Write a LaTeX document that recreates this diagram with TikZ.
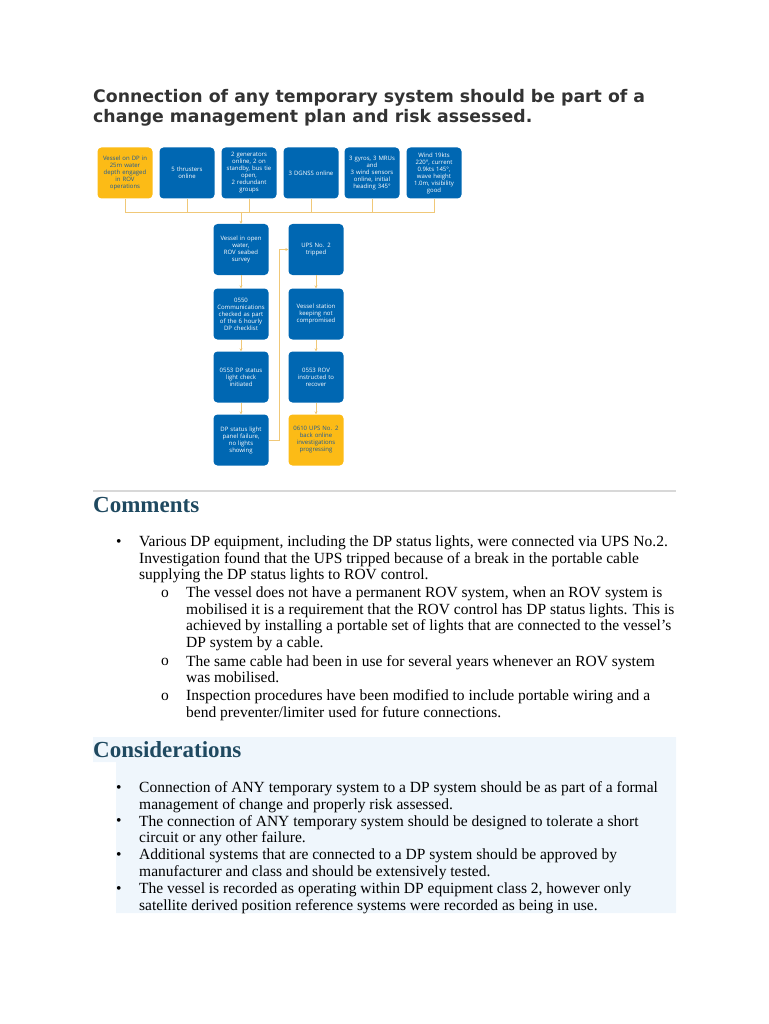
\documentclass[tikz,border=0pt]{standalone}
\usepackage{fontspec}
\setmainfont{Liberation Serif}
\newfontfamily\boxfont{Open Sans}
\newfontfamily\titlefont{DejaVu Sans}
\definecolor{dpblue}{RGB}{0,103,178}
\definecolor{dpyellow}{RGB}{252,187,22}
\definecolor{yeltext}{RGB}{30,90,150}
\definecolor{linkgold}{RGB}{240,200,120}
\definecolor{headteal}{RGB}{31,73,96}
\definecolor{titlegray}{RGB}{51,51,51}
\definecolor{rulegray}{RGB}{216,216,216}
\definecolor{shadeblue}{RGB}{239,246,252}
\usetikzlibrary{calc, positioning, arrows.meta}

\begin{document}
\begin{tikzpicture}[x=1pt, y=-1pt,
  evt/.style={draw=none, rounded corners=4pt, fill=dpblue, text=white,
    minimum width=55pt, minimum height=51pt, inner sep=1pt,
    text width=53pt, align=center,
    font=\boxfont\fontsize{6}{7}\selectfont},
  evty/.style={evt, fill=dpyellow, text=yeltext},
  lnk/.style={linkgold, line width=0.8pt},
  arw/.style={lnk, -{Stealth[length=3pt, width=3pt]}},
  para/.style={anchor=north west, inner sep=0pt, align=left,
    font=\fontsize{15.5}{16.8}\selectfont},
  dot/.style={anchor=base west, inner sep=0pt,
    font=\fontsize{15.5}{16.8}\selectfont},
  head/.style={anchor=base west, inner sep=0pt, text=headteal,
    font=\bfseries\fontsize{23}{26}\selectfont},
]
\useasboundingbox (0,0) rectangle (768,1024);

% title
\node[anchor=north west, inner sep=0pt, align=left, text=titlegray,
  font=\titlefont\bfseries\fontsize{17.3}{20}\selectfont] (title) at (93,89.3)
  {Connection of any temporary system should be part of a\\change management plan and risk assessed.};

% top row
\node[evty] (t1) at (125,173) {Vessel on DP in\\25m water\\depth engaged\\in ROV\\operations};
\node[evt] (t2) at (187,173) {5 thrusters\\online};
\node[evt] (t3) at (249,173) {2 generators\\online, 2 on\\standby, bus tie\\open,\\2 redundant\\groups};
\node[evt] (t4) at (311,173) {3 DGNSS online};
\node[evt] (t5) at (372,173) {3 gyros, 3 MRUs\\and\\3 wind sensors\\online, initial\\heading 345°};
\node[evt] (t6) at (434,173) {Wind 19kts\\220°, current\\0.9kts 145°,\\wave height\\1.0m, visibility\\good};

% left column
\node[evt] (l1) at (241,249.5) {Vessel in open\\water,\\ROV seabed\\survey};
\node[evt] (l2) at (241,314) {0550\\Communications\\checked as part\\of the 6 hourly\\DP checklist};
\node[evt] (l3) at (241,377) {0553 DP status\\light check\\initiated};
\node[evt] (l4) at (241,440) {DP status light\\panel failure,\\no lights\\showing};

% right column
\node[evt] (r1) at (316,249.5) {UPS No. 2\\tripped};
\node[evt] (r2) at (316,314) {Vessel station\\keeping not\\compromised};
\node[evt] (r3) at (316,377) {0553 ROV\\instructed to\\recover};
\node[evty] (r4) at (316,440) {0610 UPS No. 2\\back online\\investigations\\progressing};

% links
\coordinate (bus) at (0,212);
\draw[lnk] (t1.south) -- (t1.south |- bus) -- (t6.south |- bus) -- (t6.south);
\foreach \t in {t2,t3,t4,t5}
  \draw[lnk] (\t.south) -- (\t.south |- bus);
\draw[arw] (l1.north |- bus) -- (l1.north);
\draw[arw] (l1) -- (l2);
\draw[arw] (l2) -- (l3);
\draw[arw] (l3) -- (l4);
\draw[arw] (l4.east) -- ++(11,0) |- (r1.west);
\draw[arw] (r1) -- (r2);
\draw[arw] (r2) -- (r3);
\draw[arw] (r3) -- (r4);

% comments
\draw[rulegray, line width=1.5pt] (93,491) -- (676,491);
\node[head] (comm) at (93,512) {Comments};
\node[dot] (cb1) at (116,546) {•};
\node[para] (c1) at (139,535.4) {Various DP equipment, including the DP status lights, were connected via UPS No.2.\\Investigation found that the UPS tripped because of a break in the portable cable\\supplying the DP status lights to ROV control.};
\node[dot] (cs1) at (161,597) {o};
\node[para] (c2) at (186,586.4) {The vessel does not have a permanent ROV system, when an ROV system is\\mobilised it is a requirement that the ROV control has DP status lights. This is\\achieved by installing a portable set of lights that are connected to the vessel’s\\DP system by a cable.};
\node[dot] (cs2) at (161,665.5) {o};
\node[para] (c3) at (186,654.9) {The same cable had been in use for several years whenever an ROV system\\was mobilised.};
\node[dot] (cs3) at (161,700) {o};
\node[para] (c4) at (186,689.4) {Inspection procedures have been modified to include portable wiring and a\\bend preventer/limiter used for future connections.};

% considerations
\fill[shadeblue] (93,737) -- (676,737) -- (676,913) -- (116,913) -- (116,762) -- (93,762) -- cycle;
\node[head] (cons) at (93,757) {Considerations};
\node[dot] (kb1) at (116,792) {•};
\node[para] (k1) at (139,781.4) {Connection of ANY temporary system to a DP system should be as part of a formal\\management of change and properly risk assessed.};
\node[dot] (kb2) at (116,825.6) {•};
\node[para] (k2) at (139,815) {The connection of ANY temporary system should be designed to tolerate a short\\circuit or any other failure.};
\node[dot] (kb3) at (116,859.6) {•};
\node[para] (k3) at (139,849) {Additional systems that are connected to a DP system should be approved by\\manufacturer and class and should be extensively tested.};
\node[dot] (kb4) at (116,893) {•};
\node[para] (k4) at (139,882.4) {The vessel is recorded as operating within DP equipment class 2, however only\\satellite derived position reference systems were recorded as being in use.};
\end{tikzpicture}
\end{document}
